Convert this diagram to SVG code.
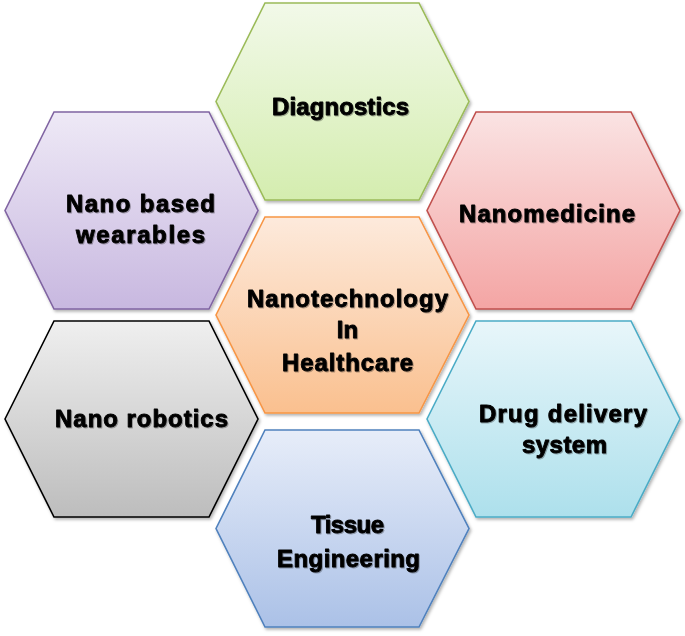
<svg xmlns="http://www.w3.org/2000/svg" width="685" height="636" viewBox="0 0 685 636">
<defs>
<linearGradient id="gGreen" x1="0" y1="0" x2="0" y2="1"><stop offset="0" stop-color="#f2f9e9"/><stop offset="1" stop-color="#d4edaf"/></linearGradient>
<linearGradient id="gPurple" x1="0" y1="0" x2="0" y2="1"><stop offset="0" stop-color="#eee9f6"/><stop offset="1" stop-color="#c8b8e0"/></linearGradient>
<linearGradient id="gRed" x1="0" y1="0" x2="0" y2="1"><stop offset="0" stop-color="#fae3e3"/><stop offset="1" stop-color="#f4a5a4"/></linearGradient>
<linearGradient id="gOrange" x1="0" y1="0" x2="0" y2="1"><stop offset="0" stop-color="#fdeadc"/><stop offset="1" stop-color="#fac08f"/></linearGradient>
<linearGradient id="gGray" x1="0" y1="0" x2="0" y2="1"><stop offset="0" stop-color="#efefef"/><stop offset="1" stop-color="#bdbdbd"/></linearGradient>
<linearGradient id="gCyan" x1="0" y1="0" x2="0" y2="1"><stop offset="0" stop-color="#e8f6fa"/><stop offset="1" stop-color="#ade0ec"/></linearGradient>
<linearGradient id="gBlue" x1="0" y1="0" x2="0" y2="1"><stop offset="0" stop-color="#e7edf9"/><stop offset="1" stop-color="#abc1e7"/></linearGradient>
<filter id="sh" x="-10%" y="-10%" width="120%" height="120%"><feDropShadow dx="1.5" dy="2" stdDeviation="1.5" flood-color="#000" flood-opacity="0.3"/></filter>
<filter id="tsh" x="-10%" y="-20%" width="120%" height="140%"><feDropShadow dx="1" dy="1" stdDeviation="0.6" flood-color="#000" flood-opacity="0.3"/></filter>
</defs>
<style>
.hex{stroke-width:1.6;filter:url(#sh);}
.lbl{font-family:"Liberation Sans",Arial,sans-serif;font-weight:700;font-size:24px;fill:#000;text-anchor:middle;filter:url(#tsh);stroke:#000;stroke-width:0.9;stroke-linejoin:round;}
</style>
<g id="connectors"></g>
<g id="diagnostics">
<polygon class="hex" fill="url(#gGreen)" stroke="#9bbb59" points="216,101.5 265,3 419,3 469,101.5 419,200 265,200"/>
<text class="lbl" x="340.5" y="115" textLength="137" lengthAdjust="spacing">Diagnostics</text>
</g>
<g id="nano-wearables">
<polygon class="hex" fill="url(#gPurple)" stroke="#8064a2" points="5,210.5 54,112 209,112 258,210.5 209,309 54,309"/>
<text class="lbl" x="140.5" y="212" textLength="149" lengthAdjust="spacing">Nano based</text>
<text class="lbl" x="140.5" y="243" textLength="129" lengthAdjust="spacing">wearables</text>
</g>
<g id="nanomedicine">
<polygon class="hex" fill="url(#gRed)" stroke="#c0504d" points="427,210.5 476,112 631,112 680,210.5 631,309 476,309"/>
<text class="lbl" x="547" y="222" textLength="176" lengthAdjust="spacing">Nanomedicine</text>
</g>
<g id="center">
<polygon class="hex" fill="url(#gOrange)" stroke="#f79646" points="216,315 265,217 419,217 469,315 419,413 265,413"/>
<text class="lbl" x="347.5" y="307" textLength="201" lengthAdjust="spacing">Nanotechnology</text>
<text class="lbl" x="347.5" y="338">In</text>
<text class="lbl" x="347.5" y="371" textLength="131" lengthAdjust="spacing">Healthcare</text>
</g>
<g id="nano-robotics">
<polygon class="hex" fill="url(#gGray)" stroke="#000" points="5,419 54,321 209,321 258,419 209,517 54,517"/>
<text class="lbl" x="141.5" y="427" textLength="173" lengthAdjust="spacing">Nano robotics</text>
</g>
<g id="drug-delivery">
<polygon class="hex" fill="url(#gCyan)" stroke="#4bacc6" points="427,419 476,321 631,321 680,419 631,517 476,517"/>
<text class="lbl" x="563" y="422" textLength="168" lengthAdjust="spacing">Drug delivery</text>
<text class="lbl" x="564.5" y="453" textLength="85" lengthAdjust="spacing">system</text>
</g>
<g id="tissue-engineering">
<polygon class="hex" fill="url(#gBlue)" stroke="#4f81bd" points="216,528.5 265,430 419,430 469,528.5 419,627 265,627"/>
<text class="lbl" x="347.5" y="533" textLength="73" lengthAdjust="spacing">Tissue</text>
<text class="lbl" x="348.5" y="567" textLength="143" lengthAdjust="spacing">Engineering</text>
</g>
</svg>
